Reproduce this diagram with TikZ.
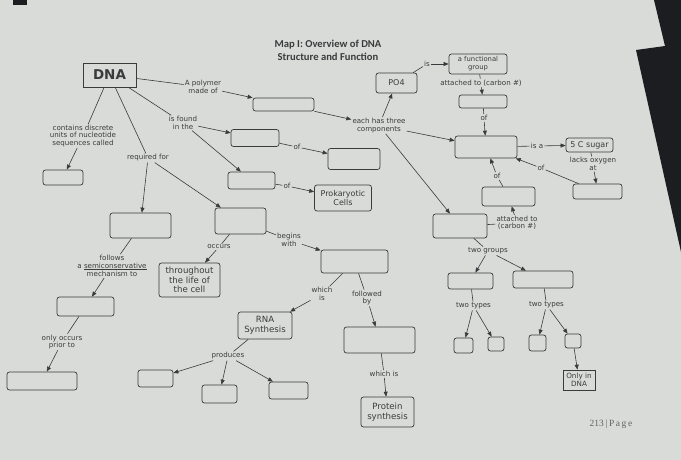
\documentclass[tikz,border=0pt]{standalone}
\usepackage{fontspec}
\setmainfont{DejaVu Sans}
\newfontfamily\titlefont{Carlito}
\newfontfamily\pagefont{Liberation Serif}
\usetikzlibrary{arrows.meta}

\definecolor{paper}{HTML}{D9DBD9}
\definecolor{desk}{HTML}{1C1D20}
\definecolor{ink}{HTML}{3A3B3C}

\tikzset{
	concept/.style={draw=ink, rounded corners=2.5pt, line width=0.7pt, inner sep=1pt, align=center, text=ink, font=\fontsize{8.6}{9.6}\selectfont},
	small/.style={font=\fontsize{8}{9}\selectfont},
	lbl/.style={text=ink, align=center, inner sep=1pt, font=\fontsize{7.1}{7.4}\selectfont},
	link/.style={draw=ink, line width=0.6pt},
	arr/.style={link, -{Triangle[length=5pt,width=4pt]}},
}

\begin{document}
\begin{tikzpicture}[x=1pt, y=-1pt]
	
	% photo background
	\fill[paper] (0,0) rectangle (681,460);
	\useasboundingbox (0,0) rectangle (681,460);
	\fill[desk] (654,0) -- (681,0) -- (681,252) -- (636,50) -- (665,46) -- cycle;
	\fill[desk] (13,0) rectangle (27,5);
	
	\node[font=\titlefont\bfseries\fontsize{10.6}{13}\selectfont, text=ink, align=center] (title) at (328,50) {Map I: Overview of DNA\\Structure and Function};
	
	% left half
	\node[concept, rounded corners=0pt, font=\bfseries\fontsize{13.5}{15}\selectfont, minimum width=53pt, minimum height=24pt] (dna) at (109.5,75) {DNA};
	\node[lbl] (lblpoly) at (203,87) {A polymer\\made of};
	\node[concept, minimum width=61pt, minimum height=13pt] (polymer) at (283.5,104.5) {};
	\node[lbl] (lblfound) at (183,123) {is found\\in the};
	\node[concept, minimum width=48pt, minimum height=17pt] (place) at (255,138) {};
	\node[lbl] (placeof) at (297,147) {of};
	\node[concept, minimum width=52pt, minimum height=21pt] (cellpart) at (354,159) {};
	\node[concept, minimum width=47pt, minimum height=17pt] (where) at (251.5,180.5) {};
	\node[lbl] (whereof) at (287,186) {of};
	\node[concept, small, minimum width=57pt, minimum height=26pt] (prok) at (343,198) {Prokaryotic\\Cells};
	\node[lbl] (lblunits) at (83,136) {contains discrete\\units of nucleotide\\sequences called};
	\node[concept, minimum width=40pt, minimum height=15pt] (genes) at (63,177.5) {};
	\node[lbl] (lblreq) at (148,158) {required for};
	\node[concept, minimum width=61pt, minimum height=25pt] (repl) at (140.5,225.5) {};
	\node[concept, minimum width=51pt, minimum height=26pt] (transc) at (240.5,221) {};
	\node[lbl] (lblfollows) at (112,266) {follows\\a \underline{semiconservative}\\mechanism to};
	\node[concept, minimum width=57pt, minimum height=19pt] (copy) at (85.5,306.5) {};
	\node[lbl] (lblprior) at (62,342) {only occurs\\prior to};
	\node[concept, minimum width=70pt, minimum height=18pt] (division) at (42,381) {};
	\node[lbl] (lbloccurs) at (219,247) {occurs};
	\node[concept, minimum width=61pt, minimum height=34pt] (life) at (189.5,280) {throughout\\the life of\\the cell};
	\node[lbl] (lblbegins) at (289,240) {begins\\with};
	\node[concept, minimum width=67pt, minimum height=23pt] (first) at (354.5,261.5) {};
	\node[lbl] (lblwhich) at (322,294) {which\\is};
	\node[concept, minimum width=54pt, minimum height=27pt] (rna) at (265,325.5) {RNA\\Synthesis};
	\node[lbl] (lblproduces) at (228,356) {produces};
	\node[concept, minimum width=35pt, minimum height=17pt] (prodA) at (155.5,378.5) {};
	\node[concept, minimum width=35pt, minimum height=18pt] (prodB) at (219.5,394) {};
	\node[concept, minimum width=39pt, minimum height=17pt] (prodC) at (288.5,390.5) {};
	\node[lbl] (lblfollowed) at (367,298) {followed\\by};
	\node[concept, minimum width=71pt, minimum height=26pt] (second) at (379.5,340) {};
	\node[lbl] (lblwhichis) at (384,374) {which is};
	\node[concept, minimum width=53pt, minimum height=30pt] (protein) at (387.5,412) {Protein\\synthesis};
	
	% right half
	\node[lbl] (lblthree) at (379,125.5) {each has three\\components};
	\node[concept, small, minimum width=41pt, minimum height=20pt] (po) at (396.5,83) {PO4};
	\node[lbl] (lblis) at (427,64) {is};
	\node[concept, font=\fontsize{6.8}{7.8}\selectfont, minimum width=58pt, minimum height=20pt] (group) at (478,64) {a functional\\group};
	\node[lbl] (lblattA) at (481,83) {attached to (carbon \#)};
	\node[concept, minimum width=48pt, minimum height=13pt] (carbonA) at (483,101.5) {};
	\node[lbl] (lblofA) at (484,118) {of};
	\node[concept, minimum width=62pt, minimum height=22pt] (sugarpart) at (486,147) {};
	\node[lbl] (lblisa) at (537,146) {is a};
	\node[concept, small, minimum width=47pt, minimum height=14pt] (sugar) at (589.5,145) {5 C sugar};
	\node[lbl] (lbllacks) at (593,164) {lacks oxygen\\at};
	\node[concept, minimum width=49pt, minimum height=15pt] (carbonB) at (597.5,191.5) {};
	\node[lbl] (lblofB) at (541,168) {of};
	\node[concept, minimum width=53pt, minimum height=19pt] (carbonC) at (508.5,196.5) {};
	\node[lbl] (lblofC) at (497,176) {of};
	\node[concept, minimum width=54pt, minimum height=24pt] (base) at (460,226) {};
	\node[lbl] (lblattB) at (517,223) {attached to\\(carbon \#)};
	\node[lbl] (lbltwo) at (488,251) {two groups};
	\node[concept, minimum width=45pt, minimum height=16pt] (groupA) at (470.5,281) {};
	\node[concept, minimum width=60pt, minimum height=17pt] (groupB) at (543,279.5) {};
	\node[lbl] (lbltypesA) at (473.5,306) {two types};
	\node[concept, minimum width=19pt, minimum height=15pt] (typeA) at (463.5,345.5) {};
	\node[concept, minimum width=16pt, minimum height=14pt] (typeB) at (496,344) {};
	\node[lbl] (lbltypesB) at (546.5,305) {two types};
	\node[concept, minimum width=17pt, minimum height=16pt] (typeC) at (537.5,343) {};
	\node[concept, minimum width=16pt, minimum height=14pt] (typeD) at (573,341) {};
	\node[concept, rounded corners=0pt, font=\fontsize{7.2}{8}\selectfont, minimum width=32pt, minimum height=20pt] (onlydna) at (579,380) {Only in\\DNA};
	
	\node[font=\pagefont\fontsize{9.5}{10}\selectfont, text=ink!80] (page) at (611,424) {213\,|\,P\,a\,g\,e};
	
	% links of the left half
	\draw[link] (dna) -- (lblpoly);
	\draw[arr] (lblpoly) -- (polymer);
	\draw[link] (dna) -- (lblfound);
	\draw[arr] (lblfound) -- (place);
	\draw[arr] (lblfound) -- (where);
	\draw[link] (place) -- (placeof);
	\draw[arr] (placeof) -- (cellpart);
	\draw[link] (where) -- (whereof);
	\draw[arr] (whereof) -- (prok);
	\draw[link] (dna) -- (lblunits);
	\draw[arr] (lblunits) -- (genes);
	\draw[link] (dna) -- (lblreq);
	\draw[arr] (lblreq) -- (repl);
	\draw[arr] (lblreq) -- (transc);
	\draw[link] (repl) -- (lblfollows);
	\draw[arr] (lblfollows) -- (copy);
	\draw[link] (copy) -- (lblprior);
	\draw[arr] (lblprior) -- (division);
	\draw[link] (transc) -- (lbloccurs);
	\draw[arr] (lbloccurs) -- (life);
	\draw[link] (transc) -- (lblbegins);
	\draw[arr] (lblbegins) -- (first);
	\draw[link] (first) -- (lblwhich);
	\draw[arr] (lblwhich) -- (rna);
	\draw[link] (rna) -- (lblproduces);
	\draw[arr] (lblproduces) -- (prodA);
	\draw[arr] (lblproduces) -- (prodB);
	\draw[arr] (lblproduces) -- (prodC);
	\draw[link] (first) -- (lblfollowed);
	\draw[arr] (lblfollowed) -- (second);
	\draw[link] (second) -- (lblwhichis);
	\draw[arr] (lblwhichis) -- (protein);
	
	% links of the right half
	\draw[arr] (polymer) -- (lblthree);
	\draw[arr] (lblthree) -- (po);
	\draw[arr] (lblthree) -- (sugarpart);
	\draw[arr] (lblthree) -- (base);
	\draw[link] (po) -- (lblis);
	\draw[arr] (lblis) -- (group);
	\draw[link] (group) -- (lblattA);
	\draw[arr] (lblattA) -- (carbonA);
	\draw[link] (carbonA) -- (lblofA);
	\draw[arr] (lblofA) -- (sugarpart);
	\draw[link] (sugarpart) -- (lblisa);
	\draw[arr] (lblisa) -- (sugar);
	\draw[link] (sugar) -- (lbllacks);
	\draw[arr] (lbllacks) -- (carbonB);
	\draw[link] (carbonB) -- (lblofB);
	\draw[arr] (lblofB) -- (sugarpart);
	\draw[link] (carbonC) -- (lblofC);
	\draw[arr] (lblofC) -- (sugarpart);
	\draw[link] (base) -- (lblattB);
	\draw[arr] (lblattB) -- (carbonC);
	\draw[link] (base) -- (lbltwo);
	\draw[arr] (lbltwo) -- (groupA);
	\draw[arr] (lbltwo) -- (groupB);
	\draw[link] (groupA) -- (lbltypesA);
	\draw[arr] (lbltypesA) -- (typeA);
	\draw[arr] (lbltypesA) -- (typeB);
	\draw[link] (groupB) -- (lbltypesB);
	\draw[arr] (lbltypesB) -- (typeC);
	\draw[arr] (lbltypesB) -- (typeD);
	\draw[arr] (typeD) -- (onlydna);
	
\end{tikzpicture}
\end{document}
